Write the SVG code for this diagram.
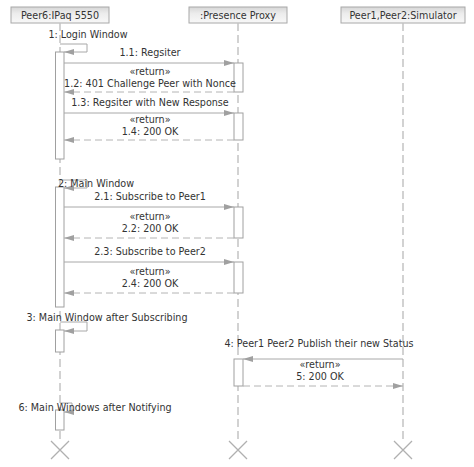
<svg xmlns="http://www.w3.org/2000/svg" width="474" height="467" viewBox="0 0 474 467">
<style>
text{font-family:"DejaVu Sans","Liberation Sans",sans-serif;font-size:9.6px;fill:#333}
.m{text-anchor:middle}
.hdr{fill:url(#hg);stroke:#a8a8a8;stroke-width:1}
.life{stroke:#c4c4c4;stroke-width:1.5;stroke-dasharray:8 4;fill:none}
.act{fill:#fff;stroke:#a0a0a0;stroke-width:1}
.msg{stroke:#a8a8a8;stroke-width:1;fill:none;marker-end:url(#ah)}
.ret{stroke:#b4b4b4;stroke-width:1;stroke-dasharray:7 4;fill:none;marker-end:url(#ah)}
.x{stroke:#b0b0b0;stroke-width:1.3}
</style>
<defs>
<linearGradient id="hg" x1="0" y1="0" x2="0" y2="1">
<stop offset="0" stop-color="#d6d6d6"/><stop offset="0.4" stop-color="#ececec"/><stop offset="1" stop-color="#f8f8f8"/>
</linearGradient>
<marker id="ah" viewBox="0 0 10 8" refX="10" refY="4" markerWidth="10" markerHeight="8" markerUnits="userSpaceOnUse" orient="auto">
<path d="M0,1 L10,4 L0,7 Z" fill="#a0a0a0"/>
</marker>
</defs>
<rect width="474" height="467" fill="#fff"/>

<g id="peer6">
<rect class="hdr" x="11" y="7" width="98" height="16"/>
<text class="m" x="60" y="18.5">Peer6:IPaq 5550</text>
<line class="life" x1="60" y1="23" x2="60" y2="442"/>
<rect class="act" x="55.5" y="52" width="8.5" height="107"/>
<rect class="act" x="55.5" y="187" width="8.5" height="120"/>
<rect class="act" x="55.5" y="330" width="8.5" height="22"/>
<rect class="act" x="55.5" y="410" width="8.5" height="20"/>
<path class="x" d="M51,441 L69,459 M69,441 L51,459"/>
</g>

<g id="proxy">
<rect class="hdr" x="189" y="7" width="98" height="16"/>
<text class="m" x="238" y="18.5">:Presence Proxy</text>
<line class="life" x1="238" y1="23" x2="238" y2="442"/>
<rect class="act" x="234" y="63" width="9" height="29"/>
<rect class="act" x="234" y="113" width="9" height="27"/>
<rect class="act" x="234" y="207" width="9" height="31"/>
<rect class="act" x="234" y="262" width="9" height="31"/>
<rect class="act" x="234" y="359" width="9" height="27"/>
<path class="x" d="M229,441 L247,459 M247,441 L229,459"/>
</g>

<g id="simulator">
<rect class="hdr" x="341" y="7" width="124" height="16"/>
<text class="m" x="403" y="18.5">Peer1,Peer2:Simulator</text>
<line class="life" x1="403" y1="23" x2="403" y2="442"/>
<path class="x" d="M394,441 L412,459 M412,441 L394,459"/>
</g>

<g id="connectors">
<path class="msg" d="M60,44 H87 V52 H64"/>
<line class="msg" x1="64" y1="63" x2="234" y2="63"/>
<line class="ret" x1="234" y1="92" x2="64" y2="92"/>
<line class="msg" x1="64" y1="113" x2="234" y2="113"/>
<line class="ret" x1="234" y1="140" x2="64" y2="140"/>
<path class="msg" d="M60,180 H87 V188 H64"/>
<line class="msg" x1="64" y1="207" x2="234" y2="207"/>
<line class="ret" x1="234" y1="238" x2="64" y2="238"/>
<line class="msg" x1="64" y1="262" x2="234" y2="262"/>
<line class="ret" x1="234" y1="293" x2="64" y2="293"/>
<path class="msg" d="M60,322 H87 V331 H64"/>
<line class="msg" x1="403" y1="359" x2="243" y2="359"/>
<line class="ret" x1="243" y1="386" x2="403" y2="386"/>
<path class="msg" d="M60,403 H72 V412 H64"/>
</g>

<g id="labels">
<text class="m" x="88" y="38">1: Login Window</text>
<text class="m" x="150" y="56">1.1: Regsiter</text>
<text class="m" x="150" y="75">«return»</text>
<text class="m" x="150" y="86.5">1.2: 401 Challenge Peer with Nonce</text>
<text class="m" x="150" y="106">1.3: Regsiter with New Response</text>
<text class="m" x="150" y="123">«return»</text>
<text class="m" x="150" y="134.5">1.4: 200 OK</text>
<text class="m" x="96" y="187">2: Main Window</text>
<text class="m" x="150" y="200">2.1: Subscribe to Peer1</text>
<text class="m" x="150" y="220">«return»</text>
<text class="m" x="150" y="232">2.2: 200 OK</text>
<text class="m" x="150" y="255">2.3: Subscribe to Peer2</text>
<text class="m" x="150" y="275">«return»</text>
<text class="m" x="150" y="286.5">2.4: 200 OK</text>
<text class="m" x="107" y="321">3: Main Window after Subscribing</text>
<text class="m" x="319" y="347">4: Peer1 Peer2 Publish their new Status</text>
<text class="m" x="320" y="368">«return»</text>
<text class="m" x="320" y="380">5: 200 OK</text>
<text class="m" x="95" y="411">6: Main Windows after Notifying</text>
</g>
</svg>
